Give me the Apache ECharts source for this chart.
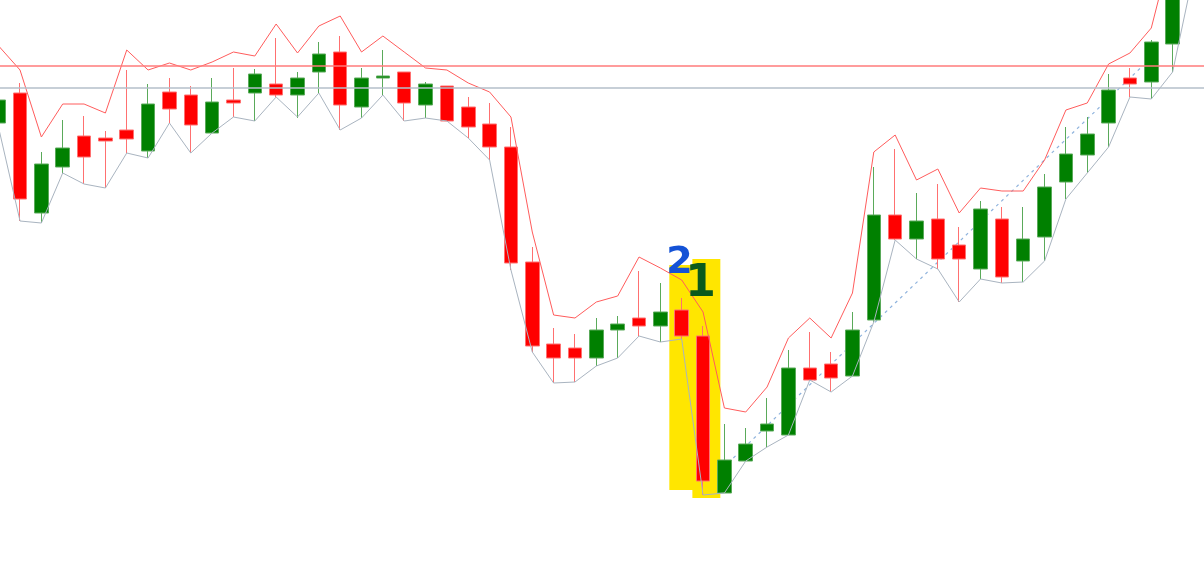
<!DOCTYPE html>
<html>
<head>
<meta charset="utf-8">
<script src="https://cdn.jsdelivr.net/npm/echarts@6/dist/echarts.min.js"></script>
<style>
  html, body { margin: 0; padding: 0; background: #fff; overflow: hidden; width: 1204px; height: 573px; }
  /* the first candle sits half off the left edge, so the plot starts a bit left of the page */
  #chart { position: absolute; left: -12px; top: 0; width: 1238px; height: 573px; }
</style>
</head>
<body>
<div id="chart"></div>
<script>
// candles (price units: 0 = bottom edge, 573 = top edge)
var open  = [450,480,360,406,437,435,443,422,481,478,440,473,480,489,478,501,521,466,495,501,468,487,466,449,426,311,229,225,215,243,255,247,263,237,80,112,142,138,205,209,197,253,358,334,354,328,304,354,312,336,391,418,450,495,491,529,613];
var close = [473,374,409,425,416,432,434,469,464,448,471,470,499,478,495,519,468,495,497,470,489,452,446,426,310,227,215,215,243,249,247,261,237,92,113,129,149,205,193,195,243,358,334,352,314,314,364,296,334,386,419,439,483,489,531,593,663];
var low   = [445,352,350,400,389,385,420,415,450,420,440,456,452,476,455,480,443,455,478,452,455,452,435,413,303,221,190,191,207,215,237,231,234,78,80,112,126,138,193,181,197,251,333,314,304,271,294,290,291,312,374,400,426,476,474,501,602];
var high  = [478,490,421,453,457,442,503,489,495,487,495,505,504,535,501,531,537,505,523,501,491,487,476,470,446,326,245,239,255,257,302,290,275,247,149,145,175,223,241,221,261,406,424,380,389,346,372,366,366,399,446,456,499,505,533,613,673];

// envelope lines
var upperBand = [527,503,436,469,469,460,523,503,510,503,511,521,517,549,520,547,557,521,537,521,505,503,490,481,456,341,258,255,271,277,316,305,293,261,165,161,186,235,255,235,280,421,438,393,404,360,385,382,382,413,463,470,509,520,545,629,690];
var lowerBand = [445,352,350,400,389,385,420,415,450,420,440,456,452,476,456,480,443,455,478,452,455,452,435,413,303,221,190,191,207,215,237,231,234,78,80,112,126,138,193,181,197,251,333,314,304,271,294,290,291,312,374,400,426,476,474,501,602];

// horizontal levels
var resistLevel = 507;
var supportLevel = 485;

// dashed trend line (x in candle index units)
var trendX = [34.42, 53.59];
var trendY = [115, 507];

// yellow highlight boxes
var boxX0 = [31.42, 32.50];
var boxX1 = [32.73, 33.81];
var boxY0 = [308, 314];
var boxY1 = [83, 75];

// hand-written labels
var noteText = ['2', '1'];
var noteX = [31.89, 32.88];
var noteY = [310, 288];

var categories = [];
for (var i = 0; i < 58; i++) categories.push(String(i));

var candles = [];
for (var i = 0; i < open.length; i++) candles.push([open[i], close[i], low[i], high[i]]);

var trend = [];
for (var i = 0; i < trendX.length; i++) trend.push([trendX[i], trendY[i]]);

var boxes = [];
for (var i = 0; i < boxX0.length; i++) {
  boxes.push([{coord: [boxX0[i], boxY0[i]]}, {coord: [boxX1[i], boxY1[i]]}]);
}

var noteColors = ['#1452d6', '#0b5a1c'];
var noteSizes = [38, 44];
var notes = [];
for (var i = 0; i < noteText.length; i++) {
  notes.push({
    coord: [noteX[i], noteY[i]],
    label: {show: true, formatter: noteText[i], color: noteColors[i], fontSize: noteSizes[i],
            fontWeight: 'bold', fontFamily: 'DejaVu Sans', position: 'inside'}
  });
}

var myChart = echarts.init(document.getElementById('chart'));
var option = {
  animation: false,
  backgroundColor: '#fff',
  grid: {left: 0, right: 0, top: 0, bottom: 0},
  xAxis: [
    {type: 'category', data: categories, boundaryGap: true, show: false},
    {type: 'value', min: -0.5, max: 57.5, show: false}
  ],
  yAxis: {type: 'value', min: 0, max: 573, show: false},
  series: [
    {
      type: 'line',
      xAxisIndex: 1,
      z: 1,
      data: trend,
      symbol: 'none',
      lineStyle: {color: '#8fb3dd', width: 1.2, type: [3, 4]},
      markArea: {
        silent: true,
        itemStyle: {color: '#ffe600'},
        data: boxes
      }
    },
    {
      type: 'candlestick',
      z: 2,
      barWidth: 14,
      data: candles,
      itemStyle: {
        color: '#008000',
        color0: '#ff0000',
        borderColor: '#5aaa5a',
        borderColor0: '#ff7070',
        borderWidth: 1
      },
      markLine: {
        silent: true,
        symbol: 'none',
        label: {show: false},
        data: [
          {yAxis: resistLevel, lineStyle: {color: '#ff7b7b', width: 1.5, type: 'solid'}},
          {yAxis: supportLevel, lineStyle: {color: '#b4bfca', width: 1.5, type: 'solid'}}
        ]
      }
    },
    {
      type: 'line',
      z: 3,
      data: upperBand,
      symbol: 'none',
      lineStyle: {color: '#ff5c5c', width: 1}
    },
    {
      type: 'line',
      z: 3,
      data: lowerBand,
      symbol: 'none',
      lineStyle: {color: '#a9b4c0', width: 1}
    },
    {
      type: 'line',
      xAxisIndex: 1,
      z: 10,
      data: [],
      markPoint: {symbol: 'circle', symbolSize: 0, data: notes}
    }
  ]
};
myChart.setOption(option);
</script>
</body>
</html>
